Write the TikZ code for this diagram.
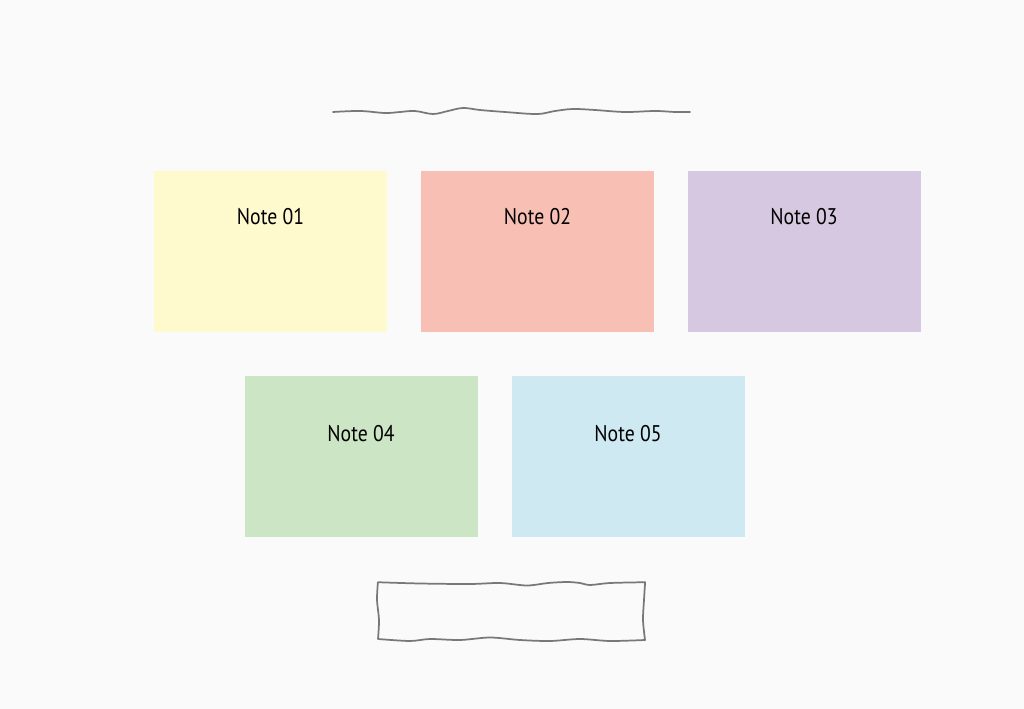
\documentclass[tikz,border=0pt]{standalone}
\usepackage{fontspec}
\setmainfont{PT Sans}
\usetikzlibrary{positioning,calc}
\definecolor{pagebg}{RGB}{250,250,250}
\definecolor{inkgray}{RGB}{120,120,120}
\definecolor{noteyellow}{RGB}{254,250,206}
\definecolor{notered}{RGB}{248,191,180}
\definecolor{notepurple}{RGB}{215,200,225}
\definecolor{notegreen}{RGB}{204,229,196}
\definecolor{noteblue}{RGB}{207,233,243}

\begin{document}
\begin{tikzpicture}[
    x=0.75pt, y=-0.75pt,
    note/.style={rectangle, draw=none, minimum width=174.75pt, minimum height=120.75pt, inner sep=0pt},
    notetext/.style={font=\fontsize{17}{20}\selectfont, text=black, inner sep=0pt, xscale=0.87, transform shape},
    sketch/.style={draw=inkgray, line width=1.3pt, line cap=round, line join=round}
]
    % Page
    \fill[pagebg] (0,0) rectangle (1024,709);

    % Title stroke
    \coordinate (tl) at (333,112);
    \coordinate (tr) at (690,112);
    \draw[sketch] plot[smooth, tension=0.6] coordinates {
        (tl) (360,111) (385,113) (400,112) (415,111) (433,114) (448,111)
        (463,108) (480,110) (505,112) (537,114) (555,111) (573,109)
        (595,110) (625,112) (655,111) (675,112) (tr)};

    % First row
    \node[note, fill=noteyellow] (n1) at (270.5,251.5) {};
    \node[note, fill=notered] (n2) at (537.5,251.5) {};
    \node[note, fill=notepurple] (n3) at (804,251.5) {};

    % Second row
    \node[note, fill=notegreen] (n4) at (361,456.5) {};
    \node[note, fill=noteblue] (n5) at (628,456.5) {};

    % Labels
    \node[notetext] (t1) at ($(n1.north)+(0,46)$) {Note 01};
    \node[notetext] (t2) at ($(n2.north)+(0,46)$) {Note 02};
    \node[notetext] (t3) at ($(n3.north)+(0,46)$) {Note 03};
    \node[notetext] (t4) at ($(n4.north)+(0,58)$) {Note 04};
    \node[notetext] (t5) at ($(n5.north)+(0,58)$) {Note 05};

    % Empty box
    \node[minimum width=200pt, minimum height=43.5pt, inner sep=0pt] (box) at (511.5,611.5) {};
    \draw[sketch] plot[smooth, tension=0.5] coordinates {
        (box.north west) (420,583.5) (470,584) (500,583) (527,585.5)
        (548,583) (567,582) (580,583) (590,585) (610,583) (box.north east)}
        -- plot[smooth, tension=0.5] coordinates {
        (box.north east) (644,600) (643,620) (645,640)}
        -- plot[smooth, tension=0.5] coordinates {
        (645,640) (610,641) (580,639) (550,641) (520,640) (490,637.5)
        (460,640) (430,639) (410,641) (378,639)}
        -- plot[smooth, tension=0.5] coordinates {
        (378,639) (379,620) (377,600) (box.north west)} -- cycle;
\end{tikzpicture}
\end{document}
